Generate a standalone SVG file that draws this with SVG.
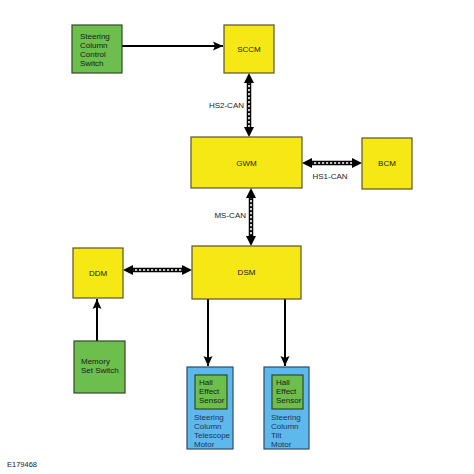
<svg xmlns="http://www.w3.org/2000/svg" width="474" height="474" viewBox="0 0 474 474">
<defs>
<style>
.y{fill:#f5e814;stroke:#5a5428;stroke-width:1.2}
.g{fill:#6cbf4c;stroke:#2f4a25;stroke-width:1.2}
.b{fill:#5eb8ec;stroke:#2f4a6a;stroke-width:1.2}
text{font-family:"Liberation Sans",Arial,sans-serif;font-size:8px;fill:#1a1a1a}
.c{text-anchor:middle}
.bt{fill:#1d3557}
.ln{stroke:#000;stroke-width:2;fill:none}
.bus{stroke:#000;stroke-width:4.5;fill:none}
.dash{stroke:#fff;stroke-width:1.6;stroke-dasharray:2.2 1.8;fill:none}
.ah{fill:#000}
</style>
<marker id="arr" viewBox="0 0 10 10" refX="10" refY="5" markerWidth="10" markerHeight="10" markerUnits="userSpaceOnUse" orient="auto">
<path d="M0,0.5 L10,5 L0,9.5 L2,5 z" fill="#000"/>
</marker>
</defs>
<rect width="474" height="474" fill="#fff"/>
<g id="connectors">
<line class="ln" x1="122" y1="46" x2="223" y2="46" marker-end="url(#arr)"/>
<line class="ln" x1="97" y1="341" x2="97" y2="299" marker-end="url(#arr)"/>
<line class="ln" x1="208" y1="299" x2="208" y2="366" marker-end="url(#arr)"/>
<line class="ln" x1="285" y1="299" x2="285" y2="366" marker-end="url(#arr)"/>
<g>
<line class="bus" x1="249" y1="81" x2="249" y2="129"/>
<line class="dash" x1="249" y1="81" x2="249" y2="129"/>
<polygon class="ah" points="249,73 244,83 254,83"/>
<polygon class="ah" points="249,137 244,127 254,127"/>
</g>
<g>
<line class="bus" x1="310" y1="163" x2="354" y2="163"/>
<line class="dash" x1="310" y1="163" x2="354" y2="163"/>
<polygon class="ah" points="302,163 312,158 312,168"/>
<polygon class="ah" points="362,163 352,158 352,168"/>
</g>
<g>
<line class="bus" x1="251" y1="196" x2="251" y2="238"/>
<line class="dash" x1="251" y1="196" x2="251" y2="238"/>
<polygon class="ah" points="251,188 246,198 256,198"/>
<polygon class="ah" points="251,246 246,236 256,236"/>
</g>
<g>
<line class="bus" x1="131" y1="270" x2="184" y2="270"/>
<line class="dash" x1="131" y1="270" x2="184" y2="270"/>
<polygon class="ah" points="123,270 133,265 133,275"/>
<polygon class="ah" points="192,270 182,265 182,275"/>
</g>
<text x="244" y="108" text-anchor="end">HS2-CAN</text>
<text x="330" y="179" class="c">HS1-CAN</text>
<text x="246" y="218" text-anchor="end">MS-CAN</text>
</g>
<g id="sccs">
<rect class="g" x="72" y="25" width="50" height="48"/>
<text x="80" y="38.5">Steering</text>
<text x="80" y="47.5">Column</text>
<text x="80" y="56.5">Control</text>
<text x="80" y="65.5">Switch</text>
</g>
<g id="sccm">
<rect class="y" x="224" y="25" width="50" height="48"/>
<text x="249" y="52" class="c">SCCM</text>
</g>
<g id="gwm">
<rect class="y" x="191" y="137" width="111" height="51"/>
<text x="246.5" y="166" class="c">GWM</text>
</g>
<g id="bcm">
<rect class="y" x="362" y="138" width="50" height="51"/>
<text x="387" y="166" class="c">BCM</text>
</g>
<g id="dsm">
<rect class="y" x="192" y="246" width="109" height="53"/>
<text x="246.5" y="275" class="c">DSM</text>
</g>
<g id="ddm">
<rect class="y" x="73" y="248" width="50" height="50"/>
<text x="98" y="276" class="c">DDM</text>
</g>
<g id="memory">
<rect class="g" x="74" y="341" width="51" height="52"/>
<text x="81" y="364">Memory</text>
<text x="81" y="373">Set Switch</text>
</g>
<g id="telescope">
<rect class="b" x="187" y="367" width="46" height="82"/>
<rect class="g" x="195" y="375" width="32" height="34"/>
<text x="199" y="385">Hall</text>
<text x="199" y="394">Effect</text>
<text x="199" y="403">Sensor</text>
<text x="194" y="420" class="bt">Steering</text>
<text x="194" y="429" class="bt">Column</text>
<text x="194" y="438" class="bt">Telescope</text>
<text x="194" y="447" class="bt">Motor</text>
</g>
<g id="tilt">
<rect class="b" x="264" y="367" width="45" height="82"/>
<rect class="g" x="272" y="375" width="31" height="34"/>
<text x="276" y="385">Hall</text>
<text x="276" y="394">Effect</text>
<text x="276" y="403">Sensor</text>
<text x="271" y="420" class="bt">Steering</text>
<text x="271" y="429" class="bt">Column</text>
<text x="271" y="438" class="bt">Tilt</text>
<text x="271" y="447" class="bt">Motor</text>
</g>
<text x="7" y="467" style="font-size:7.5px">E179468</text>
</svg>
